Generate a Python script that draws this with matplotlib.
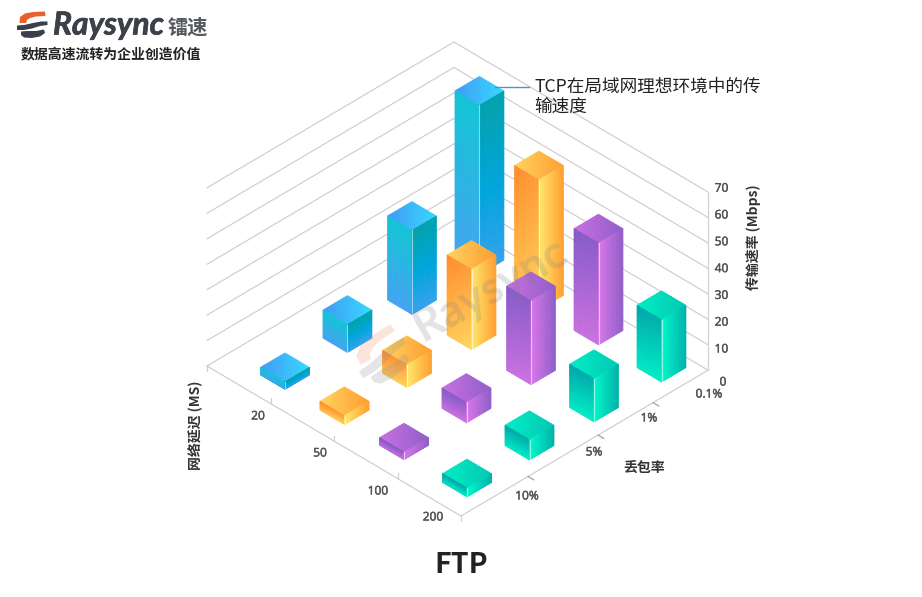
import numpy as np
import matplotlib
matplotlib.use("Agg")
import matplotlib.pyplot as plt
import matplotlib.patheffects as pe
from matplotlib.colors import to_rgb
from matplotlib.lines import Line2D
from matplotlib.patches import Polygon
from matplotlib.transforms import Affine2D
from mpl_toolkits.mplot3d import proj3d

# ---------- data ----------
latency_labels = ["20", "50", "100", "200"]
loss_labels = ["0.1%", "1%", "5%", "10%"]
z_ticks = [0, 10, 20, 30, 40, 50, 60, 70]
rate_20ms = [66.5, 33, 11, 3]
rate_50ms = [51, 31.5, 9, 3.5]
rate_100ms = [40, 33, 8, 3]
rate_200ms = [24.5, 17, 8, 3.5]
series_rates = [rate_20ms, rate_50ms, rate_100ms, rate_200ms]

# ---------- styles ----------
W, H = 922, 597
CJK = ["Noto Sans CJK SC", "DejaVu Sans"]
PAL = [
    dict(top=("#3f9df6", "#36dcff"), left=("#14c3d6", "#45a2f3"), lmix=0.0,
         right=("#00a2ae", "#00a5dc", "#38a2ee"), rdir="v"),
    dict(top=("#ffd25c", "#ff9a2c"), left=("#ff8e2e", "#ffd860"), lmix=0.25,
         right=("#ffe368", "#ff9a2c"), rdir="h"),
    dict(top=("#c76fdf", "#8d5cc8"), left=("#875bc8", "#cf72e2"), lmix=0.1,
         right=("#d475e6", "#8a5cc6"), rdir="h"),
    dict(top=("#00ecc4", "#00c6b2"), left=("#00a9aa", "#00f2c8"), lmix=0.1,
         right=("#00f5c8", "#00aca8"), rdir="h"),
]
NU, NV = 11, 17
LAT_POS = [0.734, 1.671, 2.608, 3.600]    # bar centres along latency axis
LOSS_POS = [3.658, 2.565, 1.520, 0.508]   # bar centres along loss axis
HALF_A, HALF_B = 0.193, 0.198
LOSS_TICKS = [1.085, 2.22, 3.11, 4.0]


def px(x, y):
    return x / W, 1 - y / H


def ramp(stops, t):
    stops = np.array([to_rgb(s) for s in stops])
    pos = np.linspace(0, 1, len(stops))
    return np.stack([np.interp(t, pos, stops[:, k]) for k in range(3)], axis=-1)


fig = plt.figure(figsize=(W / 100, H / 100), dpi=100, facecolor="white")
ax = fig.add_axes([0, 0, 1, 1], projection="3d", computed_zorder=False,
                  proj_type="ortho", facecolor="none")
ax.view_init(elev=36.2, azim=-45, roll=0)
ax.set_box_aspect((359, 349, 220.6))
ax.set_xlim(0, 4, view_margin=0)
ax.set_ylim(0, 4, view_margin=0)
ax.set_zlim(0, 70, view_margin=0)
ax.set_axis_off()


def project(x, y, z):
    xs, ys, _ = proj3d.proj_transform(x, y, z, ax.get_proj())
    return ax.transData.transform((xs, ys))


# place the axes so that the floor corners land where they should
side = 800.0
ax.set_position([0, 0, side / W, side / H])
ax.apply_aspect()
p0, p1 = project(0, 0, 0), project(4, 4, 0)
side *= (708 - 207) / (p1[0] - p0[0])
ax.set_position([0, 0, side / W, side / H])
ax.apply_aspect()
p0 = project(0, 0, 0)
dx, dy = 207 - p0[0], (H - 366) - p0[1]
ax.set_position([dx / W, dy / H, side / W, side / H])
ax.apply_aspect()

# ---------- walls ----------
GRID = dict(color="#d0d0d0", lw=0.9, zorder=1, solid_capstyle="round")
for z in z_ticks:
    ax.plot([0, 0], [0, 4], [z, z], **GRID)
    ax.plot([0, 4], [4, 4], [z, z], **GRID)
ax.plot([0, 4], [0, 0], [0, 0], **GRID)
ax.plot([4, 4], [0, 4], [0, 0], **GRID)
ax.plot([4, 4], [4, 4], [0, 70], **GRID)
for a in range(5):
    zr = [-2, 0] if a in (0, 4) else [0, 2]
    ax.plot([a, a], [0, 0], zr, **GRID)
for b in LOSS_TICKS[:-1]:
    ax.plot([4, 4.09], [b, b], [0, 0], color="#999999", lw=0.8, zorder=1)


# ---------- bars ----------
def bar(i, j, h, pal, zo):
    xc = LAT_POS[i]
    yc = LOSS_POS[j]
    x0, x1 = xc - HALF_A, xc + HALF_A
    y0, y1 = yc - HALF_B, yc + HALF_B
    kw = dict(rstride=1, cstride=1, shade=False, linewidth=0.5,
              antialiased=True, zorder=zo)
    # top face: left vertex to right vertex
    u, v = np.meshgrid(np.linspace(0, 1, NU), np.linspace(0, 1, NU), indexing="ij")
    ax.plot_surface(x0 + (x1 - x0) * u, y0 + (y1 - y0) * v, np.full_like(u, h),
                    facecolors=ramp(pal["top"], (u + v) / 2), **kw)
    u, v = np.meshgrid(np.linspace(0, 1, NU), np.linspace(0, 1, NV), indexing="ij")
    # left face (y = y0): u runs from left to front, v from top to bottom
    t = (1 - pal["lmix"]) * v + pal["lmix"] * u
    ax.plot_surface(x0 + (x1 - x0) * u, np.full_like(u, y0), h * (1 - v),
                    facecolors=ramp(pal["left"], t), **kw)
    # right face (x = x1): u runs from front to right
    t = v if pal["rdir"] == "v" else u
    ax.plot_surface(np.full_like(u, x1), y0 + (y1 - y0) * u, h * (1 - v),
                    facecolors=ramp(pal["right"], t), **kw)
    # pale front edge
    ax.plot([x1, x1], [y0, y0], [0, h], color="white", alpha=0.55, lw=0.8,
            zorder=zo + 0.5)


for i, rates in enumerate(series_rates):
    for j, h in enumerate(rates):
        bar(i, j, h, PAL[i], 10 + 2 * (i + j))

# ---------- callout ----------
cx, cy = project(LAT_POS[0], LOSS_POS[0], rate_20ms[0])
cy_img = H - cy
fig.add_artist(Line2D([(cx + 16) / W, 529 / W], [1 - (cy_img - 4) / H] * 2,
                      color="#5b8fc0", lw=1.0, zorder=6))
fig.text(*px(534, 97), "TCP在局域网理想环境中的传\n输速度", fontsize=12.7, family=CJK,
         color="#222222", ha="left", va="center", linespacing=1.13, zorder=6)

# ---------- tick labels and axis names ----------
TICK = dict(family="Open Sans", fontsize=8.6, color="#555555",
            ha="center", va="center", zorder=6,
            path_effects=[pe.withStroke(linewidth=0.35, foreground="#555555")])
for lab, (x, y) in zip(latency_labels, [(258, 416), (320, 453), (378, 491), (433, 517)]):
    fig.text(*px(x, y), lab, **TICK)
for lab, (x, y) in zip(loss_labels, [(709, 394), (649, 418), (594, 452), (527, 496)]):
    fig.text(*px(x, y), lab, **TICK)
for z in z_ticks:
    y = 382 if z == 0 else 375.8 - 2.68 * z
    fig.text(*px(721.5 if z else 723, y), str(z), **TICK)

NAME = dict(family=CJK, fontsize=10, color="#333333", weight="bold", ha="center",
            va="center", zorder=6)
fig.text(*px(196, 425), "网络延迟 (MS)", rotation=90, **NAME)
fig.text(*px(753, 237), "传输速率 (Mbps)", rotation=90, **NAME)
fig.text(*px(644, 468), "丢包率", **NAME)
fig.text(*px(461.5, 565), "FTP", family=CJK, fontsize=20.5, weight="bold",
         color="#222222", ha="center", va="center", zorder=6)

# ---------- logo ----------
ORANGE_BAND = [(19.5, 23), (20, 17), (25, 13.5), (33, 12), (45, 11.5), (45.5, 16), (36, 16.5),
               (30, 18), (27, 20), (26, 23)]
TOP_DARK = [(17, 30), (17, 25.5), (24, 25), (33, 23), (41, 21.5), (47.5, 21.5), (47.5, 25),
            (40, 26), (32, 28.5), (24, 30)]
LOW_DARK = [(21, 31.5), (27, 31), (36, 31), (44, 29.5), (45, 33), (40, 36.5), (32, 38), (24, 37.5), (21, 35)]


def logo_bands(tf, col1, col2, alpha=1.0, zo=6):
    for pts, col in ((ORANGE_BAND, col1), (TOP_DARK, col2), (LOW_DARK, col2)):
        p = np.array(pts, float)
        p = tf.transform(p)
        p[:, 0] /= W
        p[:, 1] = 1 - p[:, 1] / H
        fig.add_artist(Polygon(p, closed=True, fc=col, ec="none", alpha=alpha,
                               transform=fig.transFigure, zorder=zo))


logo_bands(Affine2D(), "#e8602c", "#3a3f4a")
fig.text(*px(53, 25), "Raysync", family="Lato", style="italic", weight="bold",
         fontsize=22.8, color="#3c4049", ha="left", va="center", zorder=6,
         path_effects=[pe.withStroke(linewidth=0.5, foreground="#3c4049")])
fig.text(*px(168, 27), "镭速", family=CJK, weight="bold", fontsize=14.5,
         color="#55585f", ha="left", va="center", zorder=6)
fig.text(*px(21, 54), "数据高速流转为企业创造价值", family=CJK, weight="bold", fontsize=10,
         color="#222222", ha="left", va="center", zorder=6)

# ---------- watermark ----------
tf = (Affine2D().translate(-32, -25).scale(1.8).rotate_deg(-30).translate(382, 357))
logo_bands(tf, "#ee8a5a", "#8a8d94", alpha=0.22, zo=7)
fig.text(*px(490, 290), "Raysync", family="Lato", weight="bold", fontsize=33,
         color="#7d8088", alpha=0.22, rotation=29, rotation_mode="anchor",
         ha="center", va="center", zorder=7)

fig.savefig("out.png", dpi=100, facecolor="white")
